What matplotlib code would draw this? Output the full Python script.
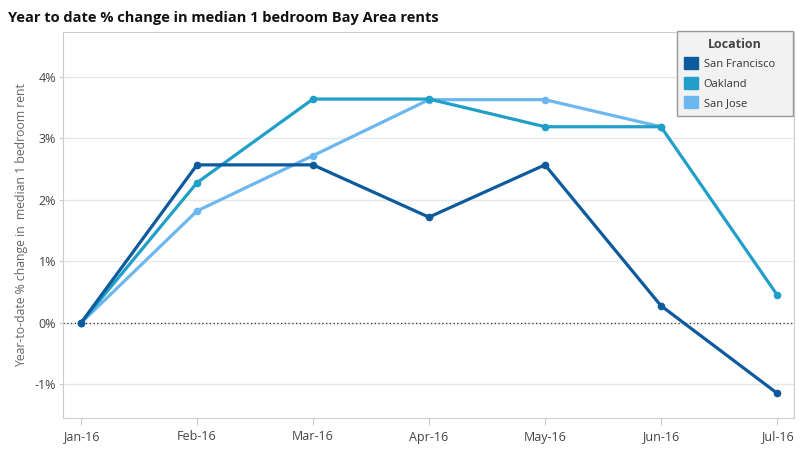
import matplotlib.pyplot as plt
from matplotlib.patches import Patch
from matplotlib.ticker import FuncFormatter

months = ["Jan-16", "Feb-16", "Mar-16", "Apr-16", "May-16", "Jun-16", "Jul-16"]
san_francisco = [0.0, 2.57, 2.57, 1.72, 2.57, 0.28, -1.14]
oakland = [0.0, 2.28, 3.64, 3.64, 3.19, 3.19, 0.46]
san_jose = [0.0, 1.82, 2.72, 3.63, 3.63, 3.19]

c_sf = "#0d5a9c"
c_oak = "#20a0c9"
c_sj = "#6db7f0"

plt.rcParams['font.family'] = ['Open Sans', 'DejaVu Sans']

fig = plt.figure(figsize=(8.05, 4.59), dpi=100)
ax = fig.add_axes([63/805, 1-418/459, (794-63)/805, (418-32)/459])

x = list(range(len(months)))
for vals, col in [(san_jose, c_sj), (oakland, c_oak), (san_francisco, c_sf)]:
    ax.plot(x[:len(vals)], vals, color=col, lw=2.3, marker="o", ms=4.5,
            solid_joinstyle="round", zorder=3)

ax.axhline(0, color="#333333", lw=0.9, ls=(0, (1, 2)), zorder=2)

ax.set_xlim(-0.155, 6.147)
ax.set_ylim(-1.545, 4.73)
ax.set_xticks(x)
ax.set_xticklabels(months)
ax.set_yticks([-1, 0, 1, 2, 3, 4])
ax.yaxis.set_major_formatter(FuncFormatter(lambda v, p: f"{v:.0f}%"))
ax.grid(axis="y", color="#e8e8e8", lw=1)
ax.set_axisbelow(True)
for s in ax.spines.values():
    s.set_color("#cccccc")
ax.tick_params(colors="#cccccc", labelcolor="#444444", labelsize=9)
ax.tick_params(axis="y", pad=2, length=3)
ax.tick_params(axis="x", pad=4, length=5)
ax.set_ylabel("Year-to-date % change in  median 1 bedroom rent",
              color="#666666", fontsize=8.8, labelpad=5)

fig.text(8/805, 1-18/459, "Year to date % change in median 1 bedroom Bay Area rents",
         fontsize=10.5, fontweight="bold", va="center", ha="left", color="#111111")

handles = [Patch(color=c_sf, label="San Francisco"),
           Patch(color=c_oak, label="Oakland"),
           Patch(color=c_sj, label="San Jose")]
leg = ax.legend(handles=handles, title="Location", loc="upper left", mode="expand",
                bbox_to_anchor=(677/805, 1-31/459-0.01, 116/805, 0.01),
                bbox_transform=fig.transFigure,
                fontsize=8, title_fontproperties={"weight": "bold", "size": 9},
                frameon=True, fancybox=False, handlelength=1.3, handleheight=1.3,
                handletextpad=0.5, labelspacing=0.6, borderpad=0.6, borderaxespad=0)
leg.get_frame().set_facecolor("#f2f2f2")
leg.get_frame().set_edgecolor("#999999")
leg.get_frame().set_alpha(1)
leg.get_title().set_color("#444444")
for t in leg.get_texts():
    t.set_color("#333333")

fig.savefig("out.png", dpi=100)
